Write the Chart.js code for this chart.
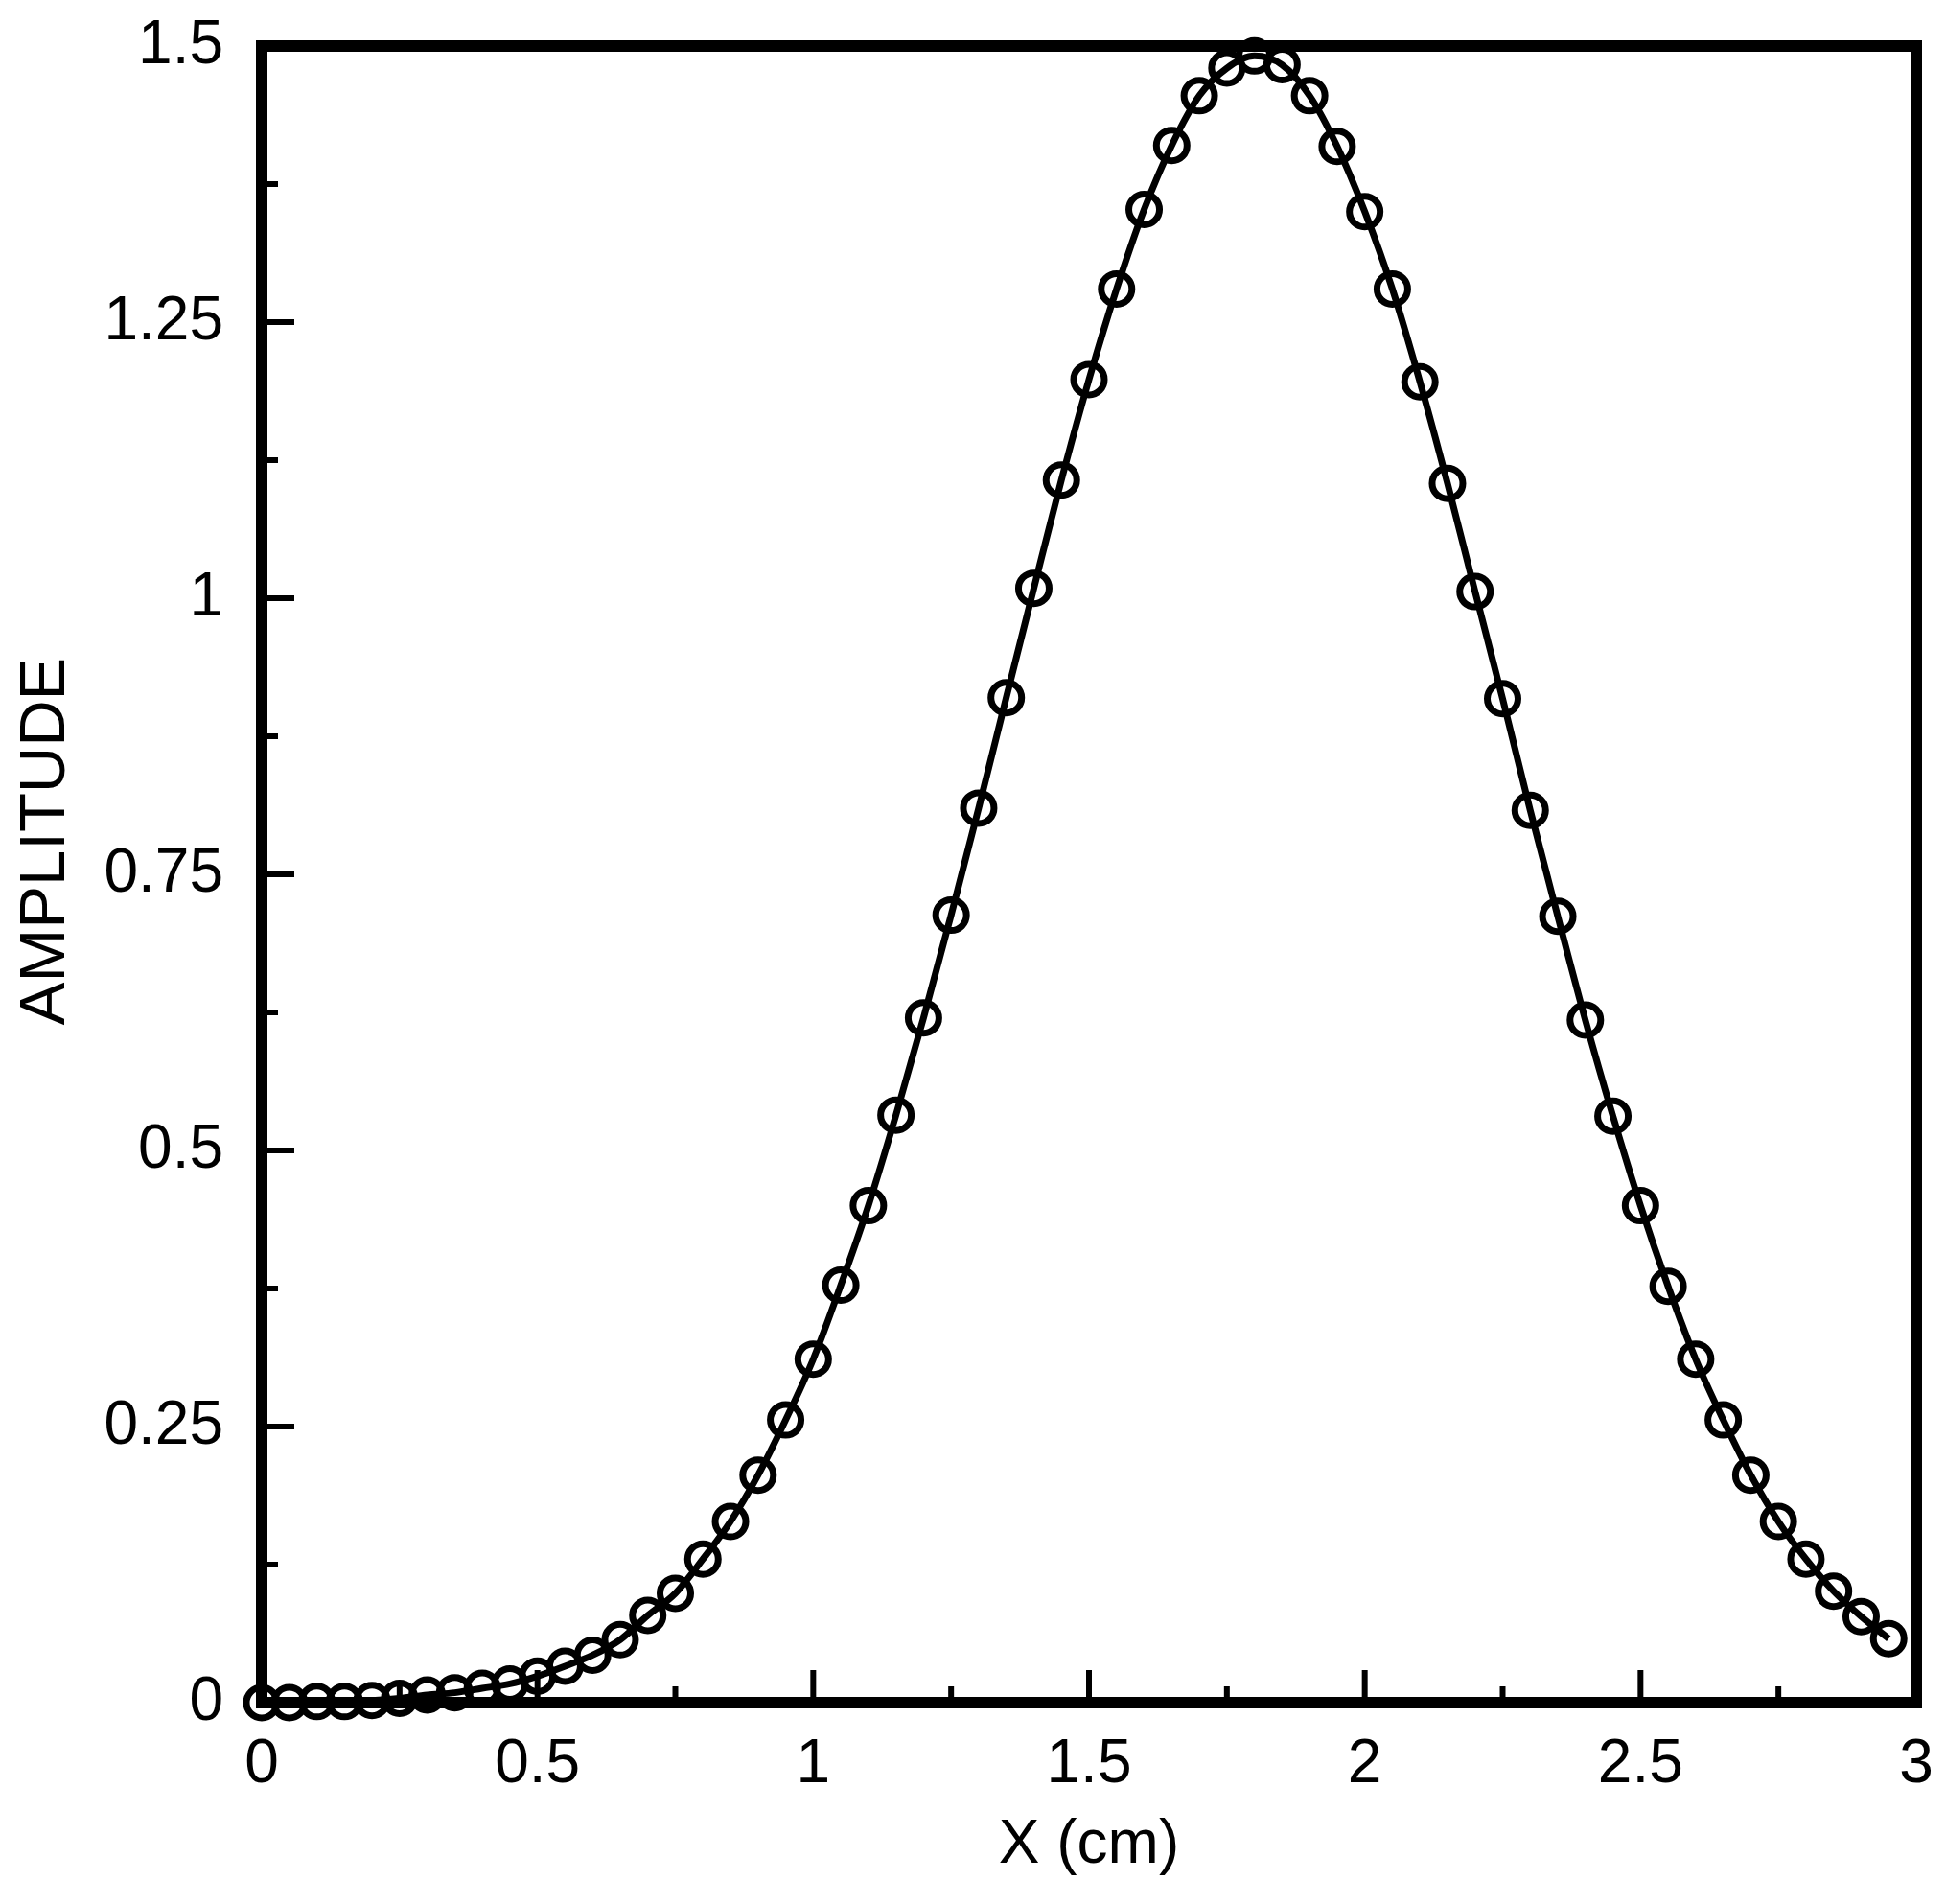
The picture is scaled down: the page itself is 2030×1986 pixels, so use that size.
<!DOCTYPE html>
<html>
<head>
    <title>Amplitude vs X</title>
    <script src="https://cdn.jsdelivr.net/npm/chart.js"></script>
    <style>
        html, body {
            margin: 0;
            padding: 0;
            background-color: #ffffff;
        }
        canvas {
            display: block;
        }
    </style>
</head>
<body>
    <canvas id="amplitud-chart" width="2030" height="1986"></canvas>

    <script>
        // posiciones X (cm) de los puntos medidos
        var xValues = [
            0, 0.05, 0.1, 0.15, 0.2, 0.25, 0.3, 0.35, 0.4, 0.45,
            0.5, 0.55, 0.6, 0.65, 0.7, 0.75, 0.8, 0.85, 0.9, 0.95,
            1, 1.05, 1.1, 1.15, 1.2, 1.25, 1.3, 1.35, 1.4, 1.45,
            1.5, 1.55, 1.6, 1.65, 1.7, 1.75, 1.8, 1.85, 1.9, 1.95,
            2, 2.05, 2.1, 2.15, 2.2, 2.25, 2.3, 2.35, 2.4, 2.45,
            2.5, 2.55, 2.6, 2.65, 2.7, 2.75, 2.8, 2.85, 2.9, 2.95
        ];

        // amplitud
        var amplitude = [
            0.000, 0.000, 0.001, 0.001, 0.002, 0.004, 0.007, 0.009, 0.013, 0.017,
            0.024, 0.033, 0.043, 0.057, 0.079, 0.099, 0.130, 0.164, 0.206, 0.256,
            0.311, 0.378, 0.450, 0.532, 0.620, 0.713, 0.810, 0.910, 1.009, 1.107,
            1.198, 1.280, 1.352, 1.410, 1.455, 1.480, 1.491, 1.483, 1.455, 1.409,
            1.350, 1.280, 1.196, 1.104, 1.006, 0.909, 0.808, 0.712, 0.618, 0.531,
            0.450, 0.377, 0.311, 0.256, 0.206, 0.164, 0.130, 0.101, 0.078, 0.058
        ];

        var xTicks = [0, 0.5, 1, 1.5, 2, 2.5, 3];
        var xMinorTicks = [0.25, 0.75, 1.25, 1.75, 2.25, 2.75];
        var yTicks = [0, 0.25, 0.5, 0.75, 1, 1.25, 1.5];
        var yMinorTicks = [0.125, 0.375, 0.625, 0.875, 1.125, 1.375];

        var tituloX = 'X (cm)';
        var tituloY = 'AMPLITUDE';

        var fuente = "'Liberation Sans', Arial, Helvetica, sans-serif";

        // marco grueso, marcas hacia dentro y titulo vertical
        var marco = {
            id: 'marco',
            beforeDatasetsDraw: function (chart) {
                var ctx = chart.ctx;
                var a = chart.chartArea;
                var x = chart.scales.x;
                var y = chart.scales.y;
                ctx.save();
                ctx.strokeStyle = '#000';
                ctx.lineCap = 'butt';
                ctx.lineWidth = 6;
                ctx.beginPath();
                xTicks.forEach(function (v) {
                    var px = x.getPixelForValue(v);
                    ctx.moveTo(px, a.bottom);
                    ctx.lineTo(px, a.bottom - 34);
                });
                xMinorTicks.forEach(function (v) {
                    var px = x.getPixelForValue(v);
                    ctx.moveTo(px, a.bottom);
                    ctx.lineTo(px, a.bottom - 17);
                });
                yTicks.forEach(function (v) {
                    var py = y.getPixelForValue(v);
                    ctx.moveTo(a.left, py);
                    ctx.lineTo(a.left + 34, py);
                });
                yMinorTicks.forEach(function (v) {
                    var py = y.getPixelForValue(v);
                    ctx.moveTo(a.left, py);
                    ctx.lineTo(a.left + 17, py);
                });
                ctx.stroke();
                ctx.lineWidth = 12;
                ctx.lineJoin = 'miter';
                ctx.strokeRect(a.left, a.top, a.right - a.left, a.bottom - a.top);
                ctx.restore();
            },
            afterDraw: function (chart) {
                // el titulo del eje Y queda algo por encima del centro
                var ctx = chart.ctx;
                var y = chart.scales.y;
                ctx.save();
                ctx.translate(49, y.getPixelForValue(0.78));
                ctx.rotate(-Math.PI / 2);
                ctx.fillStyle = '#000';
                ctx.font = '67px ' + fuente;
                ctx.textAlign = 'center';
                ctx.textBaseline = 'middle';
                ctx.fillText(tituloY, 0, 0);
                ctx.restore();
            }
        };

        var puntos = xValues.map(function (v, i) {
            return { x: v, y: amplitude[i] };
        });

        new Chart(document.getElementById('amplitud-chart'), {
            type: 'line',
            data: {
                datasets: [{
                    data: puntos,
                    borderColor: '#000',
                    borderWidth: 7,
                    cubicInterpolationMode: 'monotone',
                    pointRadius: 16,
                    pointBorderWidth: 7,
                    pointBorderColor: '#000',
                    pointBackgroundColor: 'rgba(0, 0, 0, 0)',
                    fill: false,
                    clip: false
                }]
            },
            options: {
                responsive: false,
                animation: false,
                devicePixelRatio: 1,
                layout: {
                    padding: { top: 48, right: 31, left: 0, bottom: 0 }
                },
                plugins: {
                    legend: { display: false },
                    tooltip: { enabled: false }
                },
                scales: {
                    x: {
                        type: 'linear',
                        min: 0,
                        max: 3,
                        afterBuildTicks: function (s) {
                            s.ticks = xTicks.map(function (v) { return { value: v }; });
                        },
                        afterFit: function (s) {
                            s.height = 210;
                            s.paddingLeft = 0;
                            s.paddingRight = 0;
                        },
                        grid: { display: false, drawTicks: false },
                        border: { display: false },
                        ticks: {
                            color: '#000',
                            font: { family: fuente, size: 64, lineHeight: 1.2 },
                            padding: 27,
                            maxRotation: 0,
                            autoSkip: false,
                            callback: function (v) { return String(v); }
                        },
                        title: {
                            display: true,
                            text: tituloX,
                            color: '#000',
                            font: { family: fuente, size: 64, lineHeight: 1 },
                            padding: { top: 0, bottom: 29 }
                        }
                    },
                    y: {
                        type: 'linear',
                        min: 0,
                        max: 1.5,
                        afterBuildTicks: function (s) {
                            s.ticks = yTicks.map(function (v) { return { value: v }; });
                        },
                        afterFit: function (s) {
                            s.width = 273;
                            s.paddingTop = 0;
                            s.paddingBottom = 0;
                        },
                        grid: { display: false, drawTicks: false },
                        border: { display: false },
                        ticks: {
                            color: '#000',
                            font: { family: fuente, size: 64, lineHeight: 1.2 },
                            padding: 40,
                            autoSkip: false,
                            callback: function (v) { return String(v); }
                        },
                        title: { display: false }
                    }
                }
            },
            plugins: [marco]
        });
    </script>
</body>
</html>
